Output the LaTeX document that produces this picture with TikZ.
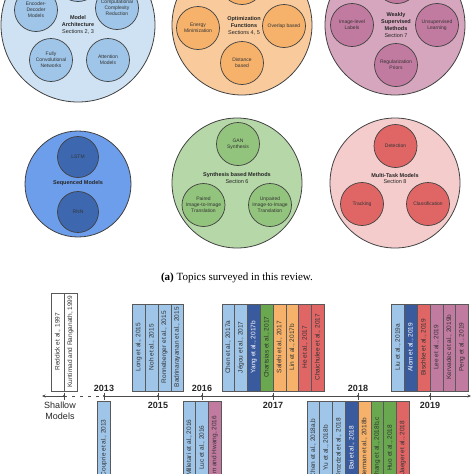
\documentclass[tikz,border=0pt]{standalone}
\usepackage{fontspec}
\setsansfont{Liberation Sans}
\newfontfamily\capfont{Liberation Serif}
\usepackage{tikz}
\usetikzlibrary{positioning,arrows.meta}
\definecolor{archbg}{HTML}{CFE2F3}
\definecolor{archin}{HTML}{9FC5E8}
\definecolor{optbg}{HTML}{F9CB9C}
\definecolor{optin}{HTML}{F6B26B}
\definecolor{weakbg}{HTML}{D5A6BD}
\definecolor{weakin}{HTML}{C27BA0}
\definecolor{seqbg}{HTML}{6D9EEB}
\definecolor{seqin}{HTML}{3D68B0}
\definecolor{synbg}{HTML}{B6D7A8}
\definecolor{synin}{HTML}{93C47D}
\definecolor{mtbg}{HTML}{F4CCCC}
\definecolor{mtin}{HTML}{E06666}
\definecolor{bxlb}{HTML}{9FC5E8}
\definecolor{bxdb}{HTML}{3A5A9E}
\definecolor{bxgr}{HTML}{6AA84F}
\definecolor{bxor}{HTML}{F6B26B}
\definecolor{bxrd}{HTML}{E06666}
\definecolor{bxmv}{HTML}{C27BA0}
\colorlet{tk}{black!80}
\colorlet{tw}{white}
\tikzset{
  bigc/.style={circle,draw=black!75,line width=0.8pt,inner sep=0pt},
  subc/.style={circle,draw=black!75,line width=0.7pt,inner sep=0pt,minimum size=43pt,
    align=center,font=\sffamily\fontsize{5}{6}\selectfont,text=black!80},
  ctitle/.style={align=center,font=\sffamily\fontsize{5.5}{6.7}\selectfont,text=black!85},
  % ---- timeline styles ----
  paper/.style={draw=black!65,line width=0.5pt,rotate=90,inner sep=0pt,minimum height=12.8pt,
    font=\sffamily\fontsize{6.5}{7}\selectfont},     % one paper, text runs upwards
  pup/.style={paper,anchor=west,minimum width=87pt},  % box above the line
  pdn/.style={paper,anchor=east,minimum width=93pt},  % box below the line
  tline/.style={line width=0.8pt,black!70},
  yr/.style={font=\sffamily\bfseries\fontsize{9}{10}\selectfont,inner sep=0pt,text=black!85},
}

\begin{document}
\begin{tikzpicture}[x=1pt,y=-1pt]
  \useasboundingbox (0,0) rectangle (474,474);
  % ---- topic circles, top row ----
  \node[bigc,fill=archbg,minimum size=154pt] (arch) at (78,25) {};
  \node[subc,fill=archin] (archtop) at (78,-20) {};
  \node[subc,fill=archin] (encdec) at (36,10) {Encoder-\\Decoder\\Models};
  \node[subc,fill=archin] (ccr) at (117,8) {Computational\\Complexity\\Reduction};
  \node[subc,fill=archin] (fcn) at (51,60) {Fully\\Convolutional\\Networks};
  \node[subc,fill=archin] (attn) at (108,60) {Attention\\Models};
  \node[ctitle] (archT) at (78,25) {\textbf{Model}\\\textbf{Architecture}\\Sections 2, 3};

  \node[bigc,fill=optbg,minimum size=140pt] (opt) at (242,25) {};
  \node[subc,fill=optin] (opttop) at (242,-17) {};
  \node[subc,fill=optin] (energy) at (198,28) {Energy\\Minimization};
  \node[subc,fill=optin] (overlap) at (284,26) {Overlap based};
  \node[subc,fill=optin] (dist) at (242,63) {Distance\\based};
  \node[ctitle] (optT) at (244,26) {\textbf{Optimization}\\\textbf{Functions}\\Sections 4, 5};

  \node[bigc,fill=weakbg,minimum size=140pt] (weak) at (395,25) {};
  \node[subc,fill=weakin] (weaktop) at (397,-18) {};
  \node[subc,fill=weakin] (imglbl) at (352,25) {Image-level\\Labels};
  \node[subc,fill=weakin] (unsup) at (437,25) {Unsupervised\\Learning};
  \node[subc,fill=weakin] (regpr) at (396,65) {Regularization\\Priors};
  \node[ctitle] (weakT) at (396,25) {\textbf{Weakly}\\\textbf{Supervised}\\\textbf{Methods}\\Section 7};

  % ---- second row ----
  \node[bigc,fill=seqbg,minimum size=106pt] (seq) at (78,184) {};
  \node[subc,fill=seqin,minimum size=41pt] (lstm) at (78,157) {LSTM};
  \node[subc,fill=seqin,minimum size=41pt] (rnn) at (78,212) {RNN};
  \node[ctitle] (seqT) at (78,183) {\textbf{Sequenced Models}};

  \node[bigc,fill=synbg,minimum size=130pt] (syn) at (237,183) {};
  \node[subc,fill=synin] (gan) at (238,144) {GAN\\Synthesis};
  \node[subc,fill=synin] (paired) at (203.5,205) {Paired\\Image-to-Image\\Translation};
  \node[subc,fill=synin] (unpaired) at (270,205) {Unpaired\\Image-to-Image\\Translation};
  \node[ctitle] (synT) at (237,178) {\textbf{Synthesis based Methods}\\Section 6};

  \node[bigc,fill=mtbg,minimum size=130pt] (mt) at (395,183) {};
  \node[subc,fill=mtin] (detect) at (395.5,146) {Detection};
  \node[subc,fill=mtin] (track) at (362,204) {Tracking};
  \node[subc,fill=mtin] (classif) at (428,204) {Classification};
  \node[ctitle] (mtT) at (395,178.5) {\textbf{Multi-Task Models}\\Section 8};

  \node[font=\capfont\fontsize{11}{13}\selectfont,inner sep=0pt] (cap) at (237,278)
    {\textbf{(a)} Topics surveyed in this review.};

  % ---- timeline ----
  \coordinate (axL) at (42,396);
  \coordinate (axR) at (471,396);
  \coordinate (tsh) at (64,396);
  \coordinate (t13) at (104,396);
  \coordinate (t15) at (158,396);
  \coordinate (t16) at (202,396);
  \coordinate (t17) at (273,396);
  \coordinate (t18) at (358,396);
  \coordinate (t19) at (430,396);
  \draw[tline,-{Stealth[length=3.5pt,width=3pt]}] (tsh) -- (axL);
  \draw[tline,dash pattern=on 3pt off 5pt] (tsh) -- (t13);
  \draw[tline,-{Stealth[length=3.5pt,width=3pt]}] (t13) -- (axR);
  \foreach \t in {tsh,t13,t15,t16,t17,t18,t19}{
    \draw[tline] ([yshift=3.5pt]\t) -- ([yshift=-3.5pt]\t);
    \fill[black!75] (\t) circle (1.1pt);
  }
  \node[yr,above=4.5pt of t13] (y13) {2013};
  \node[yr,below=6.5pt of t15] (y15) {2015};
  \node[yr,above=4.5pt of t16] (y16) {2016};
  \node[yr,below=6.5pt of t17] (y17) {2017};
  \node[yr,above=4.5pt of t18] (y18) {2018};
  \node[yr,below=6.5pt of t19] (y19) {2019};
  \node[font=\sffamily\fontsize{9}{11}\selectfont,align=center,inner sep=0pt,text=black!85,
    below=5.5pt of tsh,xshift=-4pt] (shl) {Shallow\\Models};

  % papers above the line, each group centred on its tick
  \foreach \col/\tc/\lbl [count=\i from 0] in {white/tk/{Reddick et al., 1997},
      white/tk/{Kuntimad and Ranganath, 1999}}
    \node[pup,minimum width=98pt,fill=\col,text=\tc] (ash-\i) at ({51.2+(\i+0.5)*12.8},391) {\lbl};
  \foreach \col/\tc/\lbl [count=\i from 0] in {bxlb/tk/{Long et al., 2015},
      bxlb/tk/{Noh et al., 2015}, bxlb/tk/{Ronneberger et al., 2015},
      bxlb/tk/{Badrinarayanan et al., 2015}}
    \node[pup,fill=\col,text=\tc] (a15-\i) at ({132.4+(\i+0.5)*12.8},391) {\lbl};
  \foreach \col/\tc/\lbl [count=\i from 0] in {bxlb/tk/{Chen et al., 2017a},
      bxlb/tk/{Jégou et al., 2017}, bxdb/tw/{Yang et al., 2017b},
      bxgr/tk/{Chartsias et al., 2017}, bxor/tk/{Salehi et al., 2017},
      bxor/tk/{Lin et al., 2017b}, bxrd/tk/{He et al., 2017},
      bxrd/tk/{Chaichulee et al., 2017}}
    \node[pup,fill=\col,text=\tc] (a17-\i) at ({221.8+(\i+0.5)*12.8},391) {\lbl};
  \foreach \col/\tc/\lbl [count=\i from 0] in {bxlb/tk/{Liu et al., 2019a},
      bxdb/tw/{Alom et al., 2019}, bxrd/tk/{Bischke et al., 2019},
      bxmv/tk/{Lee et al., 2019}, bxmv/tk/{Kervadec et al., 2019b},
      bxmv/tk/{Peng et al., 2019}}
    \node[pup,fill=\col,text=\tc] (a19-\i) at ({391.6+(\i+0.5)*12.8},391) {\lbl};

  % papers below the line
  \node[pdn,fill=bxlb,text=tk] (b13-0) at (104,401) {Couprie et al., 2013};
  \foreach \col/\tc/\lbl [count=\i from 0] in {bxlb/tk/{Milletari et al., 2016},
      bxlb/tk/{Luc et al., 2016}, bxmv/tk/{Kim and Hwang, 2016}}
    \node[pdn,fill=\col,text=\tc] (b16-\i) at ({182.8+(\i+0.5)*12.8},401) {\lbl};
  \foreach \col/\tc/\lbl [count=\i from 0] in {bxlb/tk/{Chen et al., 2018a,b},
      bxlb/tk/{Yu et al., 2018b}, bxlb/tk/{Drozdzal et al., 2018},
      bxdb/tw/{Bai et al., 2018}, bxor/tk/{Berman et al., 2018b},
      bxgr/tk/{Zhang et al., 2018b,c}, bxgr/tk/{Huo et al., 2018},
      bxrd/tk/{Jaeger et al., 2018}}
    \node[pdn,fill=\col,text=\tc] (b18-\i) at ({306.8+(\i+0.5)*12.8},401) {\lbl};
\end{tikzpicture}
\end{document}
